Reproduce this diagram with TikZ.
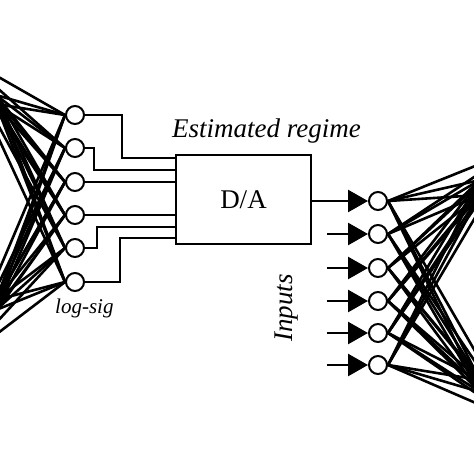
\documentclass[tikz,border=0pt]{standalone}
\usepackage{fontspec}
\setmainfont{Liberation Serif}
\usetikzlibrary{arrows.meta,backgrounds}
\begin{document}
\begin{tikzpicture}[x=1pt,y=-1pt,
  neuron/.style={circle,draw,line width=2pt,fill=white,minimum size=18pt,inner sep=0pt},
  wire/.style={line width=2.6pt},
  inarrow/.style={line width=2.6pt,-{Triangle[length=20pt,width=22pt]}},
  dabox/.style={draw,line width=2.6pt,minimum width=135pt,minimum height=89pt,inner sep=0pt,
    font=\fontsize{27}{30}\selectfont},
  lbl/.style={inner sep=0pt,font=\fontsize{27}{30}\selectfont\itshape},
  smalllbl/.style={inner sep=0pt,font=\fontsize{21}{24}\selectfont\itshape}]
\useasboundingbox (0,0) rectangle (474,474);
\clip (0,0) rectangle (474,474);

% left neurons
\node[neuron] (l1) at (75,115) {};
\node[neuron] (l2) at (75,148) {};
\node[neuron] (l3) at (75,182) {};
\node[neuron] (l4) at (75,215) {};
\node[neuron] (l5) at (75,248) {};
\node[neuron] (l6) at (75,282) {};
% right neurons
\node[neuron] (r1) at (378,201) {};
\node[neuron] (r2) at (378,234) {};
\node[neuron] (r3) at (378,268) {};
\node[neuron] (r4) at (378,301) {};
\node[neuron] (r5) at (378,333) {};
\node[neuron] (r6) at (378,365) {};

% off-frame layers
\coordinate (sa) at (-40,55);
\coordinate (sb) at (-4,95);
\coordinate (sc) at (-4,104);
\coordinate (sd) at (-4,300);
\coordinate (se) at (-4,310);
\coordinate (sf) at (-40,362);
\coordinate (ta) at (515,150);
\coordinate (tb) at (480,180);
\coordinate (tc) at (480,195);
\coordinate (td) at (480,380);
\coordinate (te) at (480,392);
\coordinate (tf) at (515,420);

\begin{pgfonlayer}{background}
\foreach \s in {sa,sb,sc,sd,se,sf}
  \foreach \n in {l1,l2,l3,l4,l5,l6}
    \draw[wire] (\s) -- (\n.west);
\foreach \t in {ta,tb,tc,td,te,tf}
  \foreach \n in {r1,r2,r3,r4,r5,r6}
    \draw[wire] (\n.east) -- (\t);
\end{pgfonlayer}

% D/A box
\node[dabox] (da) at (243.5,199.5) {D/A};

% left neurons to box
\draw[wire] (l1.east) -- (122,115) |- (da.west |- 0,158);
\draw[wire] (l2.east) -- (94,148) |- (da.west |- 0,170);
\draw[wire] (l3.east) -- (da.west |- l3.east);
\draw[wire] (l4.east) -- (da.west |- l4.east);
\draw[wire] (l5.east) -- (97,248) |- (da.west |- 0,227);
\draw[wire] (l6.east) -- (120,282) |- (da.west |- 0,238);

% inputs to right neurons
\draw[inarrow] (da.east |- r1.west) -- (r1.west);
\coordinate (i2) at (327,234);
\coordinate (i3) at (327,268);
\coordinate (i4) at (327,301);
\coordinate (i5) at (327,333);
\coordinate (i6) at (327,365);
\draw[inarrow] (i2) -- (r2.west);
\draw[inarrow] (i3) -- (r3.west);
\draw[inarrow] (i4) -- (r4.west);
\draw[inarrow] (i5) -- (r5.west);
\draw[inarrow] (i6) -- (r6.west);

% labels
\node[lbl,anchor=base west] (est) at (172,137) {Estimated regime};
\node[lbl,anchor=base west,rotate=90] (inp) at (292,342) {Inputs};
\node[smalllbl,anchor=base west] (ls) at (55,313) {log-sig};
\end{tikzpicture}
\end{document}
